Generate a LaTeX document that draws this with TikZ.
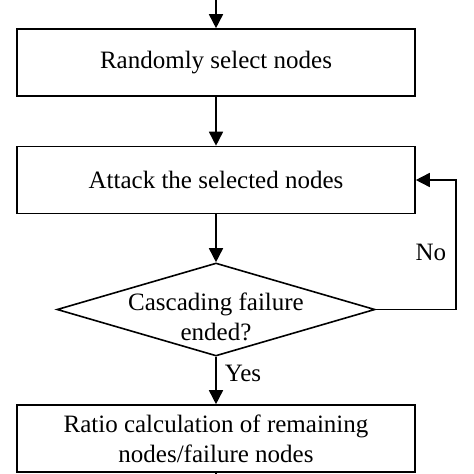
\documentclass[tikz,border=0pt]{standalone}
\usepackage{fontspec}
\setmainfont{Liberation Serif}
\usetikzlibrary{
  arrows.meta,      % Triangle 箭头样式
  shapes.geometric  % 菱形判断框
}

\tikzset{
  stepbox/.style={draw, line width=1.6pt, minimum width=398pt, minimum height=67pt,
    inner sep=0pt, align=center, font=\fontsize{25}{30}\selectfont},
  decision/.style={draw, diamond, line width=1.6pt, minimum width=318pt,
    minimum height=93pt, inner sep=0pt},
  flow/.style={line width=1.6pt, -{Triangle[length=14pt, width=14pt]}},
  lbl/.style={font=\fontsize{25}{30}\selectfont, inner sep=0pt, align=center}
}

\begin{document}
\begin{tikzpicture}[x=1pt, y=-1pt]

  % =========== 画布范围 ===========
  \useasboundingbox (0,0) rectangle (474,474);

  % =========== 流程节点 ===========
  \coordinate (start) at (216,0);
  \node[stepbox] (select) at (216,62.5) {Randomly select nodes};
  \node[stepbox] (attack) at (216,180)  {Attack the selected nodes};
  \node[decision] (ended) at (216,309.5) {};
  \node[lbl] (endedtxt) at (216,317) {Cascading failure\\ended?};
  \node[stepbox] (ratio) at (216,438.5) {Ratio calculation of remaining\\nodes/failure nodes};
  \coordinate (finish) at (216,480);

  % =========== 连线 ===========
  \draw[flow] (start) -- (select.north);
  \draw[flow] (select) -- (attack);
  \draw[flow] (attack) -- (ended.north);
  \draw[flow] (ended.south) -- node[lbl, right=8pt, pos=0.35] (yes) {Yes} (ratio.north);
  % 回路：判断为否时返回攻击步骤
  \draw[flow] (ended.east) -| (456,180) node[lbl, pos=0.72, left=9pt] (no) {No} -- (attack.east);
  \draw[line width=1.6pt] (ratio.south) -- (finish);

\end{tikzpicture}
\end{document}
